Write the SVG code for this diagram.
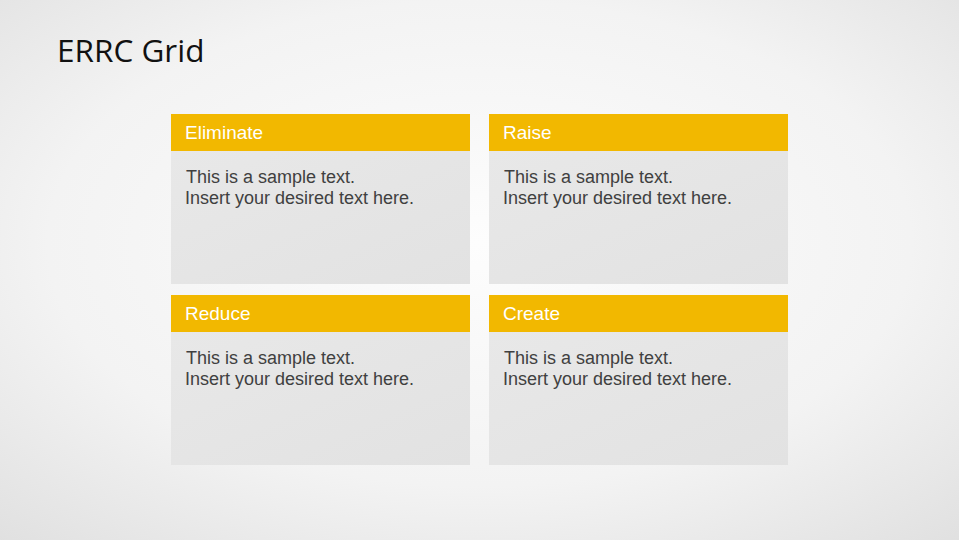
<svg xmlns="http://www.w3.org/2000/svg" width="959" height="540" viewBox="0 0 959 540">
<defs>
<radialGradient id="bg" cx="0.5" cy="0.45" r="0.75">
<stop offset="0" stop-color="#fdfdfd"/>
<stop offset="0.6" stop-color="#f3f3f3"/>
<stop offset="1" stop-color="#e0e0e0"/>
</radialGradient>
<linearGradient id="body" x1="0" y1="0" x2="1" y2="1">
<stop offset="0" stop-color="#e8e8e8"/>
<stop offset="1" stop-color="#e2e2e2"/>
</linearGradient>
<style>
.hdr{fill:#f2b800}
.bd{fill:url(#body)}
.ht{font-family:"Liberation Sans",Arial,sans-serif;font-size:19px;fill:#ffffff}
.bt{font-family:"Liberation Sans",Arial,sans-serif;font-size:18px;fill:#404040}
.title{font-family:"Open Sans","Noto Sans",sans-serif;font-size:31.5px;fill:#111111}
</style>
</defs>
<rect width="959" height="540" fill="url(#bg)"/>
<text class="title" x="57" y="62">ERRC Grid</text>
<g id="eliminate">
<rect class="bd" x="171" y="151" width="299" height="133"/>
<rect class="hdr" x="171" y="114" width="299" height="37"/>
<text class="ht" x="185" y="139">Eliminate</text>
<text class="bt" x="186" y="183">This is a sample text.</text>
<text class="bt" x="185" y="204">Insert your desired text here.</text>
</g>
<g id="raise">
<rect class="bd" x="489" y="151" width="299" height="133"/>
<rect class="hdr" x="489" y="114" width="299" height="37"/>
<text class="ht" x="503" y="139">Raise</text>
<text class="bt" x="504" y="183">This is a sample text.</text>
<text class="bt" x="503" y="204">Insert your desired text here.</text>
</g>
<g id="reduce">
<rect class="bd" x="171" y="332" width="299" height="133"/>
<rect class="hdr" x="171" y="295" width="299" height="37"/>
<text class="ht" x="185" y="320">Reduce</text>
<text class="bt" x="186" y="364">This is a sample text.</text>
<text class="bt" x="185" y="385">Insert your desired text here.</text>
</g>
<g id="create">
<rect class="bd" x="489" y="332" width="299" height="133"/>
<rect class="hdr" x="489" y="295" width="299" height="37"/>
<text class="ht" x="503" y="320">Create</text>
<text class="bt" x="504" y="364">This is a sample text.</text>
<text class="bt" x="503" y="385">Insert your desired text here.</text>
</g>
<g id="connectors"/>
</svg>
